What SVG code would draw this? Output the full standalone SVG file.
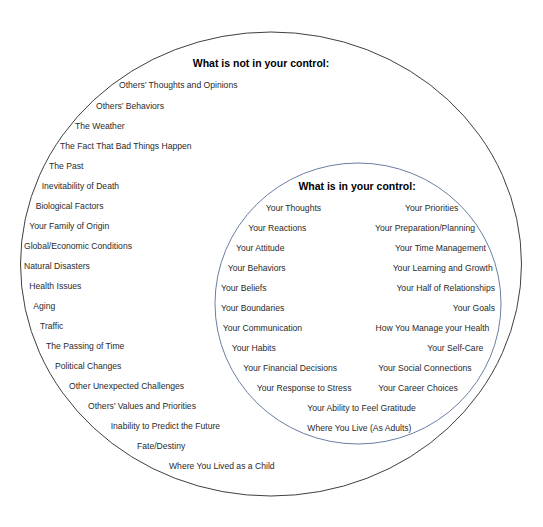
<svg xmlns="http://www.w3.org/2000/svg" width="543" height="527" viewBox="0 0 543 527">
<style>
.t{font-family:"Liberation Sans",Arial,sans-serif;font-size:8.6px;fill:#2a2a2a}
.h{font-family:"Liberation Sans",Arial,sans-serif;font-size:10.5px;font-weight:bold;fill:#000}
</style>
<rect width="543" height="527" fill="#fff"/>
<g id="outer">
<ellipse cx="271" cy="264" rx="250.5" ry="232" fill="none" stroke="#404040" stroke-width="1"/>
<text class="h" x="261" y="67" text-anchor="middle">What is not in your control:</text>
<text class="t" x="119" y="88">Others’ Thoughts and Opinions</text>
<text class="t" x="96" y="108.5">Others’ Behaviors</text>
<text class="t" x="75" y="128.5">The Weather</text>
<text class="t" x="60" y="148.5">The Fact That Bad Things Happen</text>
<text class="t" x="49" y="168.5">The Past</text>
<text class="t" x="41.7" y="188.5">Inevitability of Death</text>
<text class="t" x="35.7" y="208.5">Biological Factors</text>
<text class="t" x="29.3" y="228.5">Your Family of Origin</text>
<text class="t" x="24" y="248.5">Global/Economic Conditions</text>
<text class="t" x="24" y="268.5">Natural Disasters</text>
<text class="t" x="29.3" y="288.5">Health Issues</text>
<text class="t" x="33.3" y="308.5">Aging</text>
<text class="t" x="40" y="328.5">Traffic</text>
<text class="t" x="46" y="348.5">The Passing of Time</text>
<text class="t" x="55" y="369">Political Changes</text>
<text class="t" x="69" y="389">Other Unexpected Challenges</text>
<text class="t" x="88" y="409">Others’ Values and Priorities</text>
<text class="t" x="110.7" y="429">Inability to Predict the Future</text>
<text class="t" x="137" y="449">Fate/Destiny</text>
<text class="t" x="169" y="469">Where You Lived as a Child</text>
</g>
<g id="inner">
<ellipse cx="358" cy="303.5" rx="143" ry="140.5" fill="none" stroke="#6a7ea3" stroke-width="1"/>
<text class="h" x="357" y="190" text-anchor="middle">What is in your control:</text>
<text class="t" x="265.7" y="210.7">Your Thoughts</text>
<text class="t" x="248.3" y="230.7">Your Reactions</text>
<text class="t" x="236" y="250.7">Your Attitude</text>
<text class="t" x="227.7" y="270.7">Your Behaviors</text>
<text class="t" x="221" y="290.7">Your Beliefs</text>
<text class="t" x="221" y="310.7">Your Boundaries</text>
<text class="t" x="222.7" y="330.7">Your Communication</text>
<text class="t" x="231.7" y="350.7">Your Habits</text>
<text class="t" x="243.3" y="370.7">Your Financial Decisions</text>
<text class="t" x="256.7" y="390.5">Your Response to Stress</text>
<text class="t" x="307.3" y="410.5">Your Ability to Feel Gratitude</text>
<text class="t" x="307.3" y="430.5">Where You Live (As Adults)</text>
<text class="t" x="458.3" y="210.7" text-anchor="end">Your Priorities</text>
<text class="t" x="475" y="230.7" text-anchor="end">Your Preparation/Planning</text>
<text class="t" x="486" y="250.7" text-anchor="end">Your Time Management</text>
<text class="t" x="492.7" y="270.7" text-anchor="end">Your Learning and Growth</text>
<text class="t" x="495" y="290.7" text-anchor="end">Your Half of Relationships</text>
<text class="t" x="495" y="310.7" text-anchor="end">Your Goals</text>
<text class="t" x="489.3" y="330.7" text-anchor="end">How You Manage your Health</text>
<text class="t" x="483.3" y="350.7" text-anchor="end">Your Self-Care</text>
<text class="t" x="378.3" y="370.7">Your Social Connections</text>
<text class="t" x="378.3" y="390.5">Your Career Choices</text>
</g>
</svg>
